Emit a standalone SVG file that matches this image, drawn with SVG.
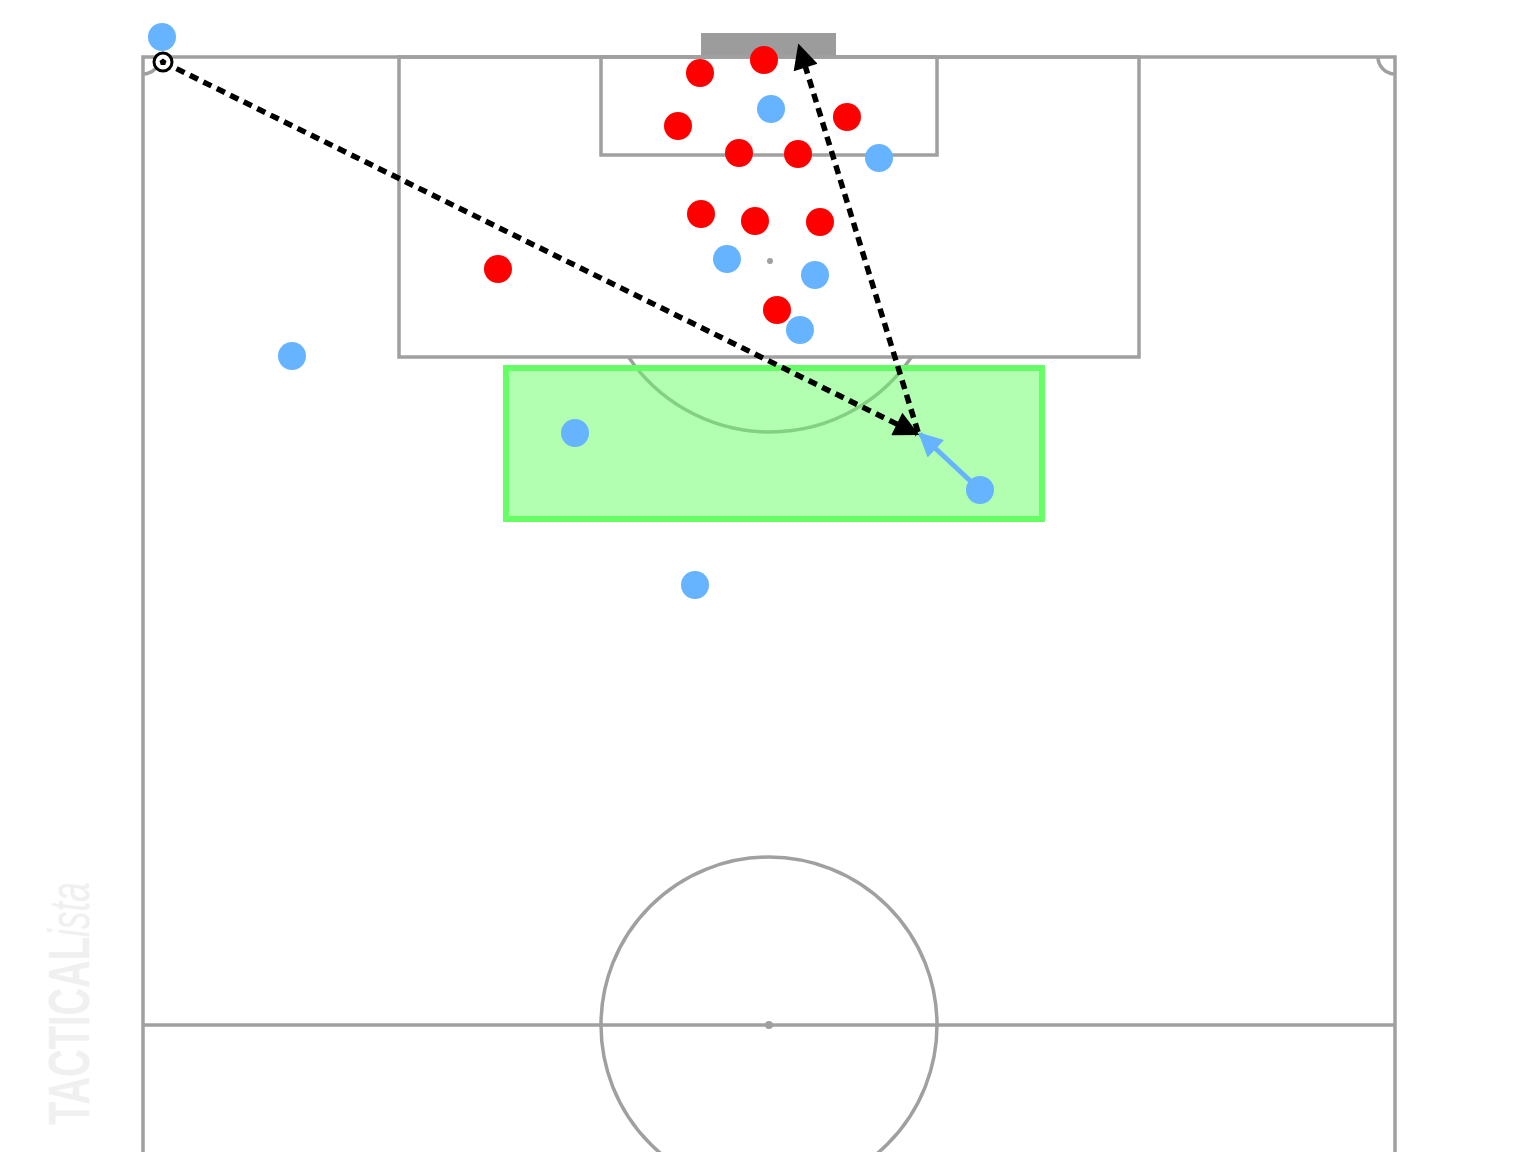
<svg xmlns="http://www.w3.org/2000/svg" width="1536" height="1152" viewBox="0 0 1536 1152">
<style>
.line{fill:none;stroke:#a0a0a0;stroke-width:3.5}
.blue{fill:#66b3ff}
.red{fill:#ff0000}
.pass{fill:none;stroke:#000;stroke-width:5.5;stroke-dasharray:9 6}
</style>
<defs>
<marker id="ah" viewBox="0 0 10 10" refX="9" refY="5" markerUnits="userSpaceOnUse" markerWidth="27" markerHeight="25" orient="auto">
<path d="M0,0 L10,5 L0,10 z" fill="#000"/>
</marker>
<marker id="ahb" viewBox="0 0 10 10" refX="9" refY="5" markerUnits="userSpaceOnUse" markerWidth="26" markerHeight="24" orient="auto">
<path d="M0,0 L10,5 L0,10 z" fill="#66b3ff"/>
</marker>
</defs>
<rect width="1536" height="1152" fill="#fff"/>
<g id="pitch">
<rect x="701" y="33" width="135" height="24" fill="#9c9c9c"/>
<path class="line" d="M143,1152 V57 H1395 V1152"/>
<line class="line" x1="143" y1="1025" x2="1395" y2="1025"/>
<rect class="line" x="399" y="57" width="740" height="300"/>
<rect class="line" x="601" y="57" width="336" height="98"/>
<path class="line" d="M628.5,357 A171,171 0 0 0 911.5,357"/>
<circle cx="770" cy="261" r="3" fill="#a0a0a0"/>
<circle class="line" cx="769" cy="1025" r="168"/>
<circle cx="769" cy="1025" r="4" fill="#a0a0a0"/>
<path class="line" d="M143,74 A17,17 0 0 0 160,57"/>
<path class="line" d="M1378,57 A17,17 0 0 0 1395,74"/>
</g>
<g id="zone">
<rect x="506" y="368" width="536" height="151" fill="#66ff66" fill-opacity="0.5" stroke="#66ff66" stroke-width="6"/>
</g>
<text transform="translate(89,1125) rotate(-90)" font-family="Liberation Sans, Arial, sans-serif" font-size="58" fill="#f0f0f0"><tspan font-weight="bold" textLength="188" lengthAdjust="spacingAndGlyphs">TACTICAL</tspan><tspan font-style="italic" textLength="55" lengthAdjust="spacingAndGlyphs">ista</tspan></text>
<g id="players-blue">
<circle class="blue" cx="162" cy="37" r="14"/>
<circle class="blue" cx="771" cy="109" r="14"/>
<circle class="blue" cx="879" cy="158" r="14"/>
<circle class="blue" cx="727" cy="259" r="14"/>
<circle class="blue" cx="815" cy="275" r="14"/>
<circle class="blue" cx="800" cy="330" r="14"/>
<circle class="blue" cx="292" cy="356" r="14"/>
<circle class="blue" cx="575" cy="433" r="14"/>
<circle class="blue" cx="980" cy="490" r="14"/>
<circle class="blue" cx="695" cy="585" r="14"/>
</g>
<g id="players-red">
<circle class="red" cx="700" cy="73" r="14"/>
<circle class="red" cx="764" cy="60" r="14"/>
<circle class="red" cx="678" cy="126" r="14"/>
<circle class="red" cx="847" cy="117" r="14"/>
<circle class="red" cx="739" cy="153" r="14"/>
<circle class="red" cx="798" cy="154" r="14"/>
<circle class="red" cx="701" cy="214" r="14"/>
<circle class="red" cx="755" cy="221" r="14"/>
<circle class="red" cx="820" cy="222" r="14"/>
<circle class="red" cx="498" cy="269" r="14"/>
<circle class="red" cx="777" cy="310" r="14"/>
</g>
<g id="connectors">
<line class="pass" x1="163" y1="62" x2="917" y2="434" marker-end="url(#ah)"/>
<line class="pass" x1="918" y1="432" x2="799" y2="46" marker-end="url(#ah)"/>
<line x1="980" y1="490" x2="920" y2="434" stroke="#66b3ff" stroke-width="5" marker-end="url(#ahb)"/>
</g>
<g id="ball">
<circle cx="163" cy="62" r="9" fill="#fff" stroke="#000" stroke-width="3"/>
<path d="M163,58.5 L166.5,61 L165.2,65 L160.8,65 L159.5,61 z" fill="#000"/>
</g>
</svg>
